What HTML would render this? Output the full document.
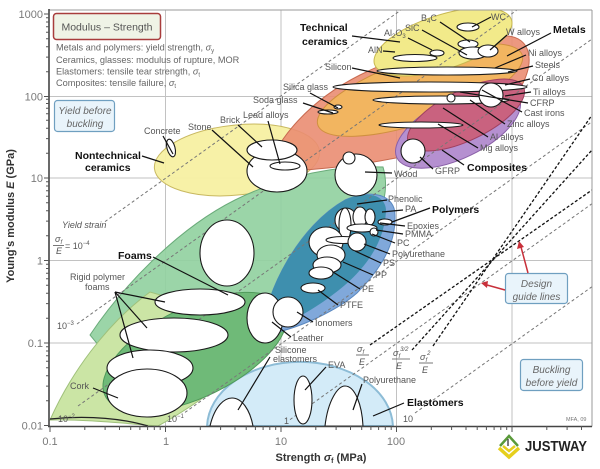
<!DOCTYPE html>
<html><head><meta charset="utf-8"><style>
html,body{margin:0;padding:0;background:#fff;width:600px;height:469px;overflow:hidden;}
svg{display:block;}
text{font-family:"Liberation Sans",sans-serif;}
.m{font-size:9px;fill:#555;}
.b{font-size:10.5px;font-weight:bold;fill:#111;}
.t{font-size:11px;fill:#7a7a7a;}
</style></head><body>
<svg width="600" height="469" viewBox="0 0 600 469" xmlns="http://www.w3.org/2000/svg" overflow="hidden">
<defs><clipPath id="pa"><rect x="49" y="10" width="543" height="416"/></clipPath></defs>
<rect width="600" height="469" fill="#fff"/>

<g stroke="#c2c2c2" stroke-width="1">
<line x1="165.5" y1="10" x2="165.5" y2="426"/>
<line x1="281" y1="10" x2="281" y2="426"/>
<line x1="396.5" y1="10" x2="396.5" y2="426"/>
<line x1="512" y1="10" x2="512" y2="426"/>
<line x1="49" y1="96.5" x2="592" y2="96.5"/>
<line x1="49" y1="178" x2="592" y2="178"/>
<line x1="49" y1="260.5" x2="592" y2="260.5"/>
<line x1="49" y1="343" x2="592" y2="343"/>
</g>

<g clip-path="url(#pa)">
<path d="M207.04,426 A93,66 0 0,1 392.96,426 Z" fill="#d3ebf8" stroke="#8dbcd6" stroke-width="2"/>
<ellipse cx="237" cy="160" rx="83" ry="35" transform="rotate(-6 237 160)" fill="#f7f0a2" stroke="#c8b860" stroke-width="1" fill-opacity="0.95"/>
<path d="M90,335 C120,290 175,230 235,200 C280,178 330,165 383,167 C387,180 386,195 382,205 C360,240 320,290 285,330 C260,355 210,390 160,420 Z" fill="#93d1a1" stroke="#6aab7a" stroke-width="1" fill-opacity="0.92"/>
<path d="M50,420 C70,375 105,325 150,292 L285,330 C250,365 200,403 158,426 C120,423 80,419 50,420 Z" fill="#cbe5a5" stroke="#9fc07a" stroke-width="1"/>
<ellipse cx="195" cy="352" rx="100" ry="45" transform="rotate(-26 195 352)" fill="#6fba78" stroke="#4f9a5a" stroke-width="1"/>
<path d="M50,419 C90,415 125,419 148,426" fill="none" stroke="#222" stroke-width="1.2"/>
<path d="M262,335 C265,290 300,225 345,200 C372,188 395,195 395,215 C396,245 380,270 357,293 C340,308 300,330 262,335 Z" fill="#80a8da" stroke="#5a88c0" stroke-width="1"/>
<path d="M262,333 C265,290 300,225 345,200 C368,190 385,195 386,210 C385,240 368,265 345,285 C325,302 295,322 262,333 Z" fill="#3e8fae"/>
<path d="M268,172 C275,140 310,100 360,75 C410,50 470,35 508,36 C530,38 535,60 522,85 C505,115 460,140 410,155 C370,164 320,170 268,172 Z" fill="#ea8d72" stroke="#c86a50" stroke-width="1" fill-opacity="0.9"/>
<ellipse cx="420" cy="90" rx="108" ry="32" transform="rotate(-19 420 90)" fill="#f2b560" stroke="#d09040" stroke-width="1"/>
<ellipse cx="443" cy="42" rx="72" ry="27" transform="rotate(-18 443 42)" fill="#f2ea8a" stroke="#c8b850" stroke-width="1"/>
<ellipse cx="458" cy="128" rx="68" ry="30" transform="rotate(-26 458 128)" fill="#b590d0" stroke="#8a60a8" stroke-width="1"/>
<ellipse cx="466" cy="115" rx="64" ry="25" transform="rotate(-26 466 115)" fill="#c9627f" stroke="#a04060" stroke-width="1"/>

<g stroke="#777" stroke-width="1" stroke-dasharray="3 2.5" fill="none">
<line x1="105" y1="221.6" x2="401" y2="10"/>
<line x1="77" y1="324" x2="517" y2="10"/>
<line x1="78" y1="406" x2="592" y2="39"/>
<line x1="185" y1="412.4" x2="592" y2="121.7"/>
<line x1="290" y1="419.6" x2="592" y2="203.7"/>
<line x1="415" y1="413" x2="592" y2="286.7"/>
</g>

<g fill="#fff" stroke="#1a1a1a" stroke-width="1.1">
<path d="M210,426 C215,405 225,398 232,398 C242,398 250,410 253,426 Z"/>
<ellipse cx="303" cy="400" rx="9" ry="24"/>
<path d="M325,426 C328,400 338,386 345,386 C355,386 362,405 363,426 Z"/>
<ellipse cx="200" cy="302" rx="45" ry="13"/>
<ellipse cx="174" cy="335" rx="54" ry="17"/>
<ellipse cx="150" cy="368" rx="43" ry="18"/>
<ellipse cx="147" cy="393" rx="40" ry="24"/>
<ellipse cx="227" cy="253" rx="27" ry="33"/>
<ellipse cx="265" cy="318" rx="18" ry="25"/>
<circle cx="288" cy="312" r="15"/>
<circle cx="356" cy="175" r="21"/>
<circle cx="349" cy="158" r="6"/>
<ellipse cx="277" cy="171" rx="30" ry="21"/>
<ellipse cx="272" cy="150" rx="25" ry="10"/>
<ellipse cx="285" cy="166" rx="15" ry="4"/>
<ellipse cx="171" cy="148" rx="4" ry="9" transform="rotate(-15 171 148)"/>
<ellipse cx="346" cy="220" rx="11" ry="12"/>
<ellipse cx="345" cy="225" rx="6" ry="17"/>
<ellipse cx="360" cy="217" rx="7" ry="10"/>
<ellipse cx="370" cy="217" rx="5" ry="8"/>
<ellipse cx="362" cy="228" rx="15" ry="4"/>
<ellipse cx="385" cy="222" rx="7" ry="3"/>
<circle cx="374" cy="232" r="4"/>
<ellipse cx="326" cy="242" rx="17" ry="15"/>
<ellipse cx="343" cy="240" rx="17" ry="3.5"/>
<ellipse cx="357" cy="242" rx="9" ry="9"/>
<ellipse cx="331" cy="255" rx="14" ry="10"/>
<ellipse cx="327" cy="265" rx="14" ry="8"/>
<ellipse cx="321" cy="273" rx="12" ry="6"/>
<ellipse cx="313" cy="288" rx="12" ry="5"/>
<ellipse cx="468" cy="27" rx="11" ry="4"/>
<ellipse cx="468" cy="44" rx="10" ry="4"/>
<ellipse cx="473" cy="53" rx="14" ry="6"/>
<ellipse cx="488" cy="51" rx="10" ry="6"/>
<ellipse cx="437" cy="53" rx="7" ry="3"/>
<ellipse cx="415" cy="58" rx="22" ry="3.5"/>
<ellipse cx="447" cy="71" rx="70" ry="4"/>
<ellipse cx="430" cy="87" rx="97" ry="5"/>
<ellipse cx="441" cy="100" rx="68" ry="4"/>
<ellipse cx="421" cy="125" rx="42" ry="3"/>
<circle cx="491" cy="95" r="12"/>
<circle cx="451" cy="98" r="4"/>
<ellipse cx="338" cy="107" rx="4" ry="2"/>
<ellipse cx="328" cy="112" rx="10" ry="2"/>
<circle cx="413" cy="151" r="12"/>
</g>
</g>

<g stroke="#111" stroke-width="1.2" fill="none">
<line x1="163" y1="136" x2="173" y2="154"/>
<line x1="142" y1="156" x2="164" y2="163"/>
<line x1="212" y1="130" x2="253" y2="167"/>
<line x1="238" y1="125" x2="262" y2="147"/>
<line x1="268" y1="121" x2="280" y2="164"/>
<line x1="303" y1="103" x2="333" y2="113"/>
<line x1="310" y1="93" x2="338" y2="108"/>
<line x1="352" y1="68" x2="400" y2="78"/>
<line x1="383" y1="51" x2="395" y2="52"/>
<line x1="408" y1="38" x2="432" y2="50"/>
<line x1="422" y1="30" x2="467" y2="55"/>
<line x1="440" y1="22" x2="470" y2="42"/>
<line x1="491" y1="17" x2="472" y2="27"/>
<line x1="352" y1="36" x2="400" y2="42"/>
<line x1="507" y1="35" x2="490" y2="50"/>
<line x1="551" y1="33" x2="507" y2="56"/>
<line x1="526" y1="55" x2="495" y2="68"/>
<line x1="533" y1="66" x2="508" y2="72"/>
<line x1="530" y1="79" x2="505" y2="85"/>
<line x1="531" y1="92" x2="505" y2="96"/>
<line x1="528" y1="103" x2="460" y2="92"/>
<line x1="522" y1="112" x2="482" y2="90"/>
<line x1="505" y1="124" x2="470" y2="100"/>
<line x1="488" y1="137" x2="443" y2="108"/>
<line x1="478" y1="148" x2="438" y2="124"/>
<line x1="433" y1="169" x2="420" y2="157"/>
<line x1="464" y1="165" x2="442" y2="150"/>
<line x1="392" y1="173" x2="365" y2="172"/>
<line x1="387" y1="200" x2="357" y2="204"/>
<line x1="403" y1="210" x2="382" y2="212"/>
<line x1="430" y1="208" x2="392" y2="222"/>
<line x1="405" y1="226" x2="380" y2="223"/>
<line x1="403" y1="234" x2="376" y2="230"/>
<line x1="395" y1="243" x2="372" y2="234"/>
<line x1="390" y1="254" x2="364" y2="244"/>
<line x1="381" y1="263" x2="355" y2="251"/>
<line x1="373" y1="275" x2="343" y2="262"/>
<line x1="360" y1="289" x2="333" y2="272"/>
<line x1="338" y1="305" x2="318" y2="290"/>
<line x1="313" y1="322" x2="297" y2="312"/>
<line x1="291" y1="337" x2="272" y2="322"/>
<line x1="270" y1="357" x2="238" y2="410"/>
<line x1="326" y1="367" x2="305" y2="390"/>
<line x1="362" y1="384" x2="353" y2="410"/>
<line x1="404" y1="403" x2="373" y2="416"/>
<line x1="153" y1="257" x2="228" y2="295"/>
<line x1="115" y1="292" x2="165" y2="302"/>
<line x1="115" y1="292" x2="147" y2="328"/>
<line x1="115" y1="292" x2="133" y2="358"/>
<line x1="93" y1="388" x2="118" y2="398"/>
</g>

<g stroke="#111" stroke-width="1.3" stroke-dasharray="3 2" fill="none">
<line x1="370" y1="345" x2="592" y2="190"/>
<line x1="412" y1="350" x2="592" y2="150"/>
<line x1="433" y1="346" x2="592" y2="115"/>
</g>

<g class="m">
<text x="144" y="134">Concrete</text>
<text x="188" y="130">Stone</text>
<text x="220" y="123">Brick</text>
<text x="243" y="118">Lead alloys</text>
<text x="253" y="103">Soda glass</text>
<text x="283" y="90">Silica glass</text>
<text x="325" y="70">Silicon</text>
<text x="368" y="53">AlN</text>
<text x="384" y="36">Al<tspan font-size="6" dy="2">2</tspan><tspan dy="-2">O</tspan><tspan font-size="6" dy="2">3</tspan></text>
<text x="405" y="31">SiC</text>
<text x="421" y="21">B<tspan font-size="6" dy="2">4</tspan><tspan dy="-2">C</tspan></text>
<text x="491" y="20">WC</text>
<text x="506" y="35">W alloys</text>
<text x="528" y="56">Ni alloys</text>
<text x="535" y="68">Steels</text>
<text x="532" y="81">Cu alloys</text>
<text x="533" y="95">Ti alloys</text>
<text x="530" y="106">CFRP</text>
<text x="524" y="116">Cast irons</text>
<text x="507" y="127">Zinc alloys</text>
<text x="490" y="140">Al alloys</text>
<text x="480" y="151">Mg alloys</text>
<text x="435" y="174">GFRP</text>
<text x="394" y="177">Wood</text>
<text x="388" y="202">Phenolic</text>
<text x="405" y="212">PA</text>
<text x="407" y="229">Epoxies</text>
<text x="405" y="237">PMMA</text>
<text x="397" y="246">PC</text>
<text x="392" y="257">Polyurethane</text>
<text x="383" y="266">PS</text>
<text x="375" y="278">PP</text>
<text x="362" y="292">PE</text>
<text x="340" y="308">PTFE</text>
<text x="315" y="326">Ionomers</text>
<text x="293" y="341">Leather</text>
<text x="275" y="353">Silicone</text>
<text x="273" y="362">elastomers</text>
<text x="328" y="368">EVA</text>
<text x="363" y="383">Polyurethane</text>
<text x="70" y="280">Rigid polymer</text>
<text x="85" y="290">foams</text>
<text x="70" y="389">Cork</text>
<text x="62" y="228" font-style="italic">Yield strain</text>
<text x="55" y="242" font-style="italic">σ<tspan font-size="6" dy="2">f</tspan></text>
<text x="56" y="254" font-style="italic">E</text>
<text x="65" y="249">= 10<tspan font-size="6" dy="-4">−4</tspan></text>
<text x="57" y="329">10<tspan font-size="6" dy="-4">−3</tspan></text>
<text x="58" y="422">10<tspan font-size="6" dy="-4">−2</tspan></text>
<text x="167" y="422">10<tspan font-size="6" dy="-4">−1</tspan></text>
<text x="284" y="424">1</text>
<text x="403" y="422">10</text>
<text x="357" y="352" font-style="italic">σ<tspan font-size="6" dy="2">f</tspan></text>
<text x="359" y="365" font-style="italic">E</text>
<text x="393" y="356" font-style="italic">σ<tspan font-size="6" dy="2">f</tspan><tspan font-size="6" dy="-7">3/2</tspan></text>
<text x="396" y="369" font-style="italic">E</text>
<text x="420" y="360" font-style="italic">σ<tspan font-size="6" dy="2">f</tspan><tspan font-size="6" dy="-7">2</tspan></text>
<text x="422" y="373" font-style="italic">E</text>
</g>
<g stroke="#555" stroke-width="0.8">
<line x1="53" y1="245.5" x2="64" y2="245.5"/>
<line x1="356" y1="355" x2="369" y2="355"/>
<line x1="392" y1="359" x2="410" y2="359"/>
<line x1="419" y1="363" x2="433" y2="363"/>
</g>

<g class="b">
<text x="300" y="31">Technical</text>
<text x="302" y="45">ceramics</text>
<text x="553" y="33">Metals</text>
<text x="75" y="159">Nontechnical</text>
<text x="85" y="171">ceramics</text>
<text x="467" y="171">Composites</text>
<text x="432" y="213">Polymers</text>
<text x="118" y="259">Foams</text>
<text x="407" y="406">Elastomers</text>
</g>

<rect x="53.5" y="13.5" width="107" height="26" rx="3" fill="#eff3e6" stroke="#a83c3c" stroke-width="1.5"/>
<text x="107" y="30.5" text-anchor="middle" font-size="10.5" fill="#555">Modulus – Strength</text>
<g font-size="9.2" fill="#666">
<text x="56" y="50.5">Metals and polymers: yield strength, <tspan font-style="italic">σ</tspan><tspan font-size="6" dy="2">y</tspan></text>
<text x="56" y="63">Ceramics, glasses: modulus of rupture, MOR</text>
<text x="56" y="74.5">Elastomers: tensile tear strength, <tspan font-style="italic">σ</tspan><tspan font-size="6" dy="2">t</tspan></text>
<text x="56" y="86">Composites: tensile failure, <tspan font-style="italic">σ</tspan><tspan font-size="6" dy="2">t</tspan></text>
</g>

<g fill="#e9f4fb" stroke="#6f9fc0" stroke-width="1.2">
<rect x="54.5" y="100.5" width="60" height="31" rx="3"/>
<rect x="520.5" y="359.5" width="62" height="31" rx="3"/>
<rect x="505.5" y="273.5" width="62" height="30" rx="3"/>
</g>
<g font-size="10" font-style="italic" fill="#666" text-anchor="middle">
<text x="85" y="114">Yield before</text>
<text x="85" y="127">buckling</text>
<text x="551.5" y="373">Buckling</text>
<text x="551.5" y="386">before yield</text>
<text x="536.5" y="287">Design</text>
<text x="536.5" y="300">guide lines</text>
</g>
<g stroke="#c8303a" stroke-width="1.5" fill="#c8303a">
<line x1="528" y1="273" x2="521" y2="247"/>
<polygon points="519,241 517,249 524,247" stroke="none"/>
<line x1="505" y1="290" x2="487" y2="285"/>
<polygon points="481,283 488,281 487,288" stroke="none"/>
</g>

<line x1="49" y1="10" x2="592" y2="10" stroke="#999" stroke-width="1"/>
<line x1="592" y1="10" x2="592" y2="426.5" stroke="#999" stroke-width="1"/>
<line x1="49" y1="9" x2="49" y2="427" stroke="#444" stroke-width="1.6"/>
<line x1="48" y1="426.5" x2="592" y2="426.5" stroke="#444" stroke-width="1.6"/>
<g stroke="#555" stroke-width="1">
<path d="M44,14H49M44,96.5H49M44,178H49M44,260.5H49M44,343H49M44,425.5H49"/>
<path d="M46,400.7H49M46,386.1H49M46,375.8H49M46,367.8H49M46,361.3H49M46,355.8H49M46,351H49M46,346.8H49
M46,318.2H49M46,303.6H49M46,293.3H49M46,285.3H49M46,278.8H49M46,273.3H49M46,268.5H49M46,264.3H49
M46,235.7H49M46,221.1H49M46,210.8H49M46,202.8H49M46,196.3H49M46,190.8H49M46,186H49M46,181.8H49
M46,153.2H49M46,138.6H49M46,128.3H49M46,120.3H49M46,113.8H49M46,108.3H49M46,103.5H49M46,99.3H49
M46,71.7H49M46,57.1H49M46,46.8H49M46,38.8H49M46,32.3H49M46,26.8H49M46,22H49M46,17.8H49"/>
<path d="M50,426V432M165.5,426V432M281,426V432M396.5,426V432M512,426V432"/>
<path d="M84.8,426V430M105.1,426V430M119.5,426V430M130.7,426V430M139.9,426V430M147.6,426V430M154.3,426V430M160.2,426V430
M200.3,426V430M220.6,426V430M235,426V430M246.2,426V430M255.4,426V430M263.1,426V430M269.8,426V430M275.7,426V430
M315.8,426V430M336.1,426V430M350.5,426V430M361.7,426V430M370.9,426V430M378.6,426V430M385.3,426V430M391.2,426V430
M431.3,426V430M451.6,426V430M466,426V430M477.2,426V430M486.4,426V430M494.1,426V430M500.8,426V430M506.7,426V430
M546.8,426V430M567.1,426V430M581.5,426V430"/>
</g>
<g class="t" text-anchor="end">
<text x="43" y="18">1000</text>
<text x="43" y="100.5">100</text>
<text x="43" y="182">10</text>
<text x="43" y="264.5">1</text>
<text x="43" y="347">0.1</text>
<text x="43" y="429.5">0.01</text>
</g>
<g class="t" text-anchor="middle">
<text x="50" y="445">0.1</text>
<text x="166" y="445">1</text>
<text x="281" y="445">10</text>
<text x="396" y="445">100</text>
</g>
<text x="321" y="461" text-anchor="middle" font-size="11" font-weight="bold" fill="#333">Strength <tspan font-style="italic">σ</tspan><tspan font-size="7" dy="2">f</tspan><tspan dy="-2"> (MPa)</tspan></text>
<text transform="translate(14,216) rotate(-90)" text-anchor="middle" font-size="11" font-weight="bold" fill="#333">Young's modulus <tspan font-style="italic">E</tspan> (GPa)</text>
<text x="566" y="421" font-size="5.5" fill="#777">MFA, 09</text>

<g fill="none" stroke-linejoin="miter">
<polyline points="500,446 509,436 518,446" stroke="#5a9a3a" stroke-width="2.5"/>
<polyline points="499,448 509,457 519,448" stroke="#e6cf1c" stroke-width="3.5"/>
<polyline points="503,446 509,451 515,446" stroke="#e6cf1c" stroke-width="2.5"/>
<line x1="508" y1="439" x2="508" y2="446" stroke="#444" stroke-width="1.4"/>
</g>
<text x="525" y="451" font-size="15" font-weight="bold" fill="#222" textLength="62" lengthAdjust="spacingAndGlyphs">JUSTWAY</text>
</svg>
</body></html>
